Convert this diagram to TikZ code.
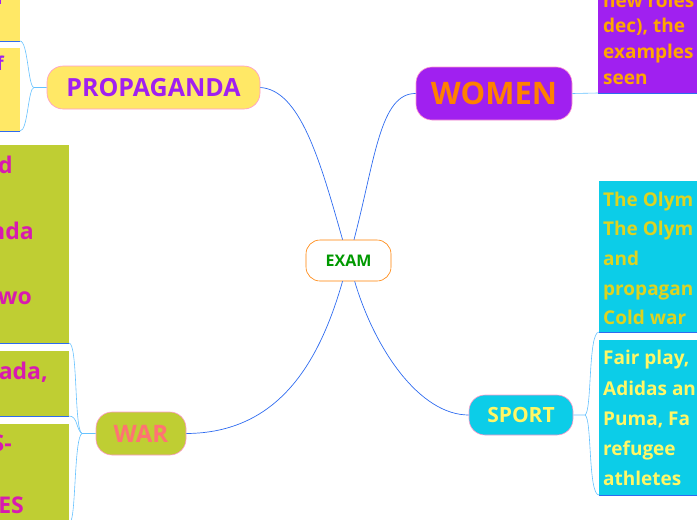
\documentclass[tikz,border=0pt]{standalone}
\usepackage{fontspec}
\setmainfont{Open Sans}
\begin{document}
\begin{tikzpicture}[x=1pt,y=-1pt,
  topic/.style={rounded corners=16pt,draw=pink!80!magenta,line width=0.6pt,inner sep=0pt},
  txt/.style={font=\bfseries\fontsize{19}{19}\selectfont,anchor=base west,inner sep=0pt},
  ltxt/.style={txt,font=\bfseries\fontsize{23}{23}\selectfont,anchor=base east,text=mag},
  link/.style={draw=lnk,line width=0.7pt},
  brk/.style={draw=blue!40!cyan!60!white,line width=0.6pt}]
\useasboundingbox (0,0) rectangle (697,520);
\clip (0,0) rectangle (697,520);
\definecolor{yel}{HTML}{FFE866}
\definecolor{grn}{HTML}{BFCE33}
\definecolor{pur}{HTML}{A020F0}
\definecolor{cyn}{HTML}{0CCDE8}
\definecolor{lnk}{HTML}{2E6BF0}
\definecolor{mag}{HTML}{D81AB0}
% sub boxes
\fill[yel] (-5,-5) rectangle (20,41); \draw[lnk,line width=1pt] (-5,41)--(20,41);
\fill[yel] (-5,48) rectangle (20,131); \draw[lnk,line width=1pt] (-5,131)--(20,131);
\node[txt,anchor=base east,text=pur] (y1) at (4,4) {f};
\node[txt,anchor=base east,text=pur] (y2) at (4,70) {f};
\fill[grn] (-5,145) rectangle (69,343); \draw[lnk,line width=1pt] (-5,343)--(69,343);
\fill[grn] (-5,351) rectangle (69,416); \draw[lnk,line width=1pt] (-5,416)--(69,416);
\fill[grn] (-5,424) rectangle (69,525);
\node[ltxt] (g1) at (13,173) {d};
\node[ltxt] (g2) at (34,239) {nda};
\node[ltxt] (g3) at (32,304) {wo};
\node[ltxt] (g4) at (48,379) {ada,};
\node[ltxt] (g5) at (12,451) {S-};
\node[ltxt] (g6) at (24,513) {ES};
\fill[pur] (598,-5) rectangle (702,93); \draw[lnk,line width=1pt] (598,93)--(702,93);
\foreach \t/\yy in {new roles/7,{dec), the}/32,examples/58,seen/84}
  \node[txt,text=orange!70!yellow] at (603,\yy) {\t};
\fill[cyn] (599,181) rectangle (702,332); \draw[lnk,line width=1pt] (599,332)--(702,332);
\foreach \t/\yy in {The Olym/206,The Olym/235,and/265,propagan/295,Cold war/324}
  \node[txt,text=yellow!85!black] at (603,\yy) {\t};
\fill[cyn] (599,340) rectangle (702,495); \draw[lnk,line width=1pt] (599,495)--(702,495);
\foreach \t/\yy in {{Fair play,}/364,Adidas an/395,{Puma, Fa}/425,refugee/455,athletes/485}
  \node[txt,text=yellow!60!white] at (603,\yy) {\t};
% topics
\node[topic,fill=white,draw=orange,minimum width=85pt,minimum height=41pt,rounded corners=14pt,text=green!60!black,font=\bfseries\fontsize{16}{16}\selectfont] (exam) at (348.5,260.5) {EXAM};
\node[topic,fill=yel,minimum width=213pt,minimum height=43pt,text=pur,font=\bfseries\fontsize{25}{25}\selectfont] (prop) at (153.5,87.5) {PROPAGANDA};
\node[topic,fill=grn,minimum width=90pt,minimum height=43pt,text=pink!60!red,font=\bfseries\fontsize{24}{24}\selectfont] (war) at (141,433.5) {WAR};
\node[topic,fill=pur,minimum width=156pt,minimum height=53pt,text=orange,font=\bfseries\fontsize{31}{31}\selectfont] (women) at (494,93.5) {WOMEN};
\node[topic,fill=cyn,minimum width=104pt,minimum height=40pt,text=yellow!60!white,font=\bfseries\fontsize{21}{21}\selectfont] (sport) at (521,415) {SPORT};
% main links
\draw[link] (exam) .. controls (320,160) and (300,90) .. (prop.east);
\draw[link] (exam) .. controls (320,360) and (280,433) .. (war.east);
\draw[link] (exam) .. controls (375,160) and (380,93) .. (women.west);
\draw[link] (exam) .. controls (375,350) and (420,415) .. (sport.west);
% brackets
\coordinate (pb) at (34,87.5);
\draw[brk] (prop.west)--(pb) .. controls (28,87) and (28,41) .. (20,41);
\draw[brk] (pb) .. controls (28,88) and (28,131) .. (20,131);
\coordinate (wb) at (82,433.5);
\draw[brk] (war.west)--(wb) .. controls (74,430) and (78,343) .. (69,343);
\draw[brk] (wb) .. controls (76,430) and (78,416) .. (69,416);
\draw[brk] (wb) .. controls (74,437) and (76,520) .. (70,522);
\draw[brk] (women.east)--(598,93);
\coordinate (sb) at (585,415);
\draw[brk] (sport.east)--(sb) .. controls (592,412) and (588,332) .. (599,332);
\draw[brk] (sb) .. controls (592,418) and (588,495) .. (599,495);
\end{tikzpicture}
\end{document}
